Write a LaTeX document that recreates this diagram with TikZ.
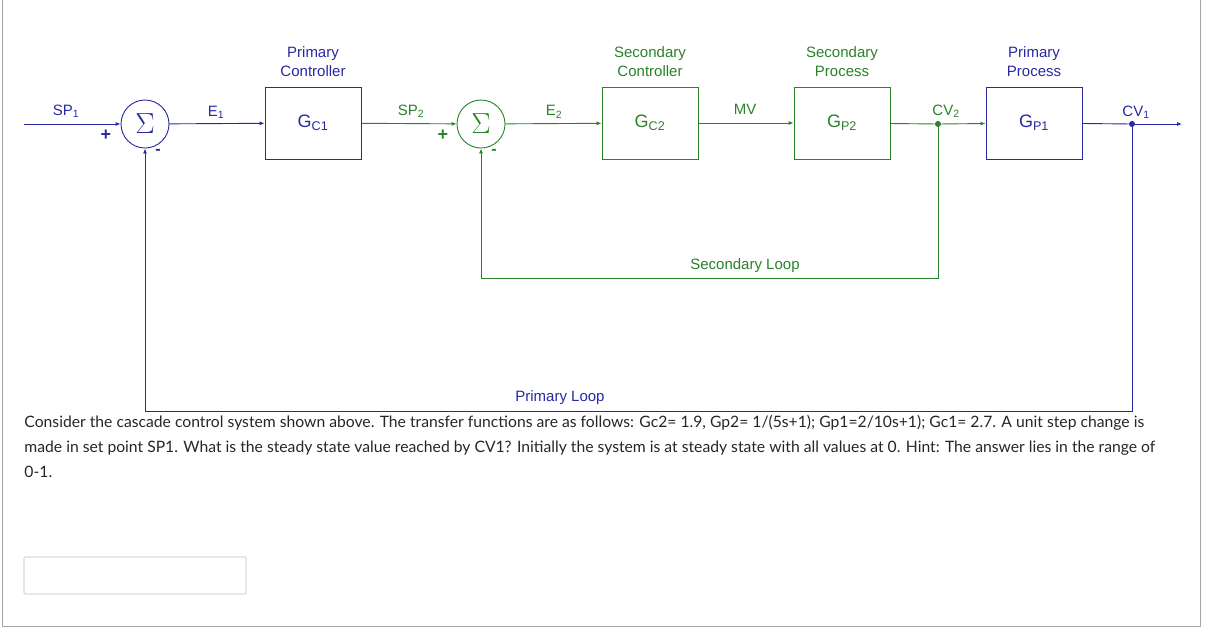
\documentclass[tikz,border=0pt]{standalone}
\usepackage{fontspec}
\setmainfont{Liberation Sans}
\newfontfamily\latofont{Lato}
\usetikzlibrary{arrows.meta}
\definecolor{bl}{RGB}{40,40,160}
\definecolor{gr}{RGB}{40,130,40}
\begin{document}
\begin{tikzpicture}[x=1pt,y=-1pt,line width=0.9pt,
  lbl/.style={font=\fontsize{15}{15}\selectfont},
  ttl/.style={font=\fontsize{15}{19}\selectfont,align=center},
  blk/.style={draw,minimum width=96pt,minimum height=72pt,font=\fontsize{18}{18}\selectfont},
  sumnode/.style={draw,circle,minimum size=48pt,inner sep=0pt,font=\fontsize{22}{22}\selectfont},
  arr/.style={-{Latex[length=5pt,width=4pt]}},
  dotn/.style={circle,fill,inner sep=0pt,minimum size=6pt}]
\useasboundingbox (0,0) rectangle (1216,641);
\draw[gray!70] (2,-5) rectangle (1200,626);
% blue
\begin{scope}[bl]
\coordinate (in) at (24,124);
\node[sumnode] (s1) at (145,124) {\scalebox{1.4}{$\Sigma$}};
\node[blk] (gc1) at (313,123) {G\textsubscript{C1}};
\node[blk] (gp1) at (1034,123) {G\textsubscript{P1}};
\node[dotn] (cv1) at (1132,124) {};
\coordinate (out) at (1182,124);
\coordinate (pl1) at (1132,411);
\coordinate (pl2) at (145,411);
\draw[arr] (in) -- (s1);
\draw[arr] (s1) -- (gc1);
\draw (gp1) -- (cv1);
\draw[arr] (cv1) -- (out);
\draw[arr] (cv1) -- (pl1) -- (pl2) -- (s1);
\node[lbl] at (66,111) {SP\textsubscript{1}};
\node[lbl] at (216,112) {E\textsubscript{1}};
\node[lbl] at (1136,112) {CV\textsubscript{1}};
\node[font=\fontsize{18}{18}\selectfont\bfseries] at (106,135) {+};
\node[font=\fontsize{16}{16}\selectfont\bfseries] at (158,152) {-};
\node[ttl] at (313,62) {Primary\\Controller};
\node[ttl] at (1034,62) {Primary\\Process};
\node[lbl] at (560,398) {Primary Loop};
\end{scope}
% green
\begin{scope}[gr]
\node[sumnode] (s2) at (481,124) {\scalebox{1.4}{$\Sigma$}};
\node[blk] (gc2) at (650,123) {G\textsubscript{C2}};
\node[blk] (gp2) at (842,123) {G\textsubscript{P2}};
\node[dotn] (cv2) at (938,124) {};
\coordinate (sl1) at (938,278);
\coordinate (sl2) at (481,278);
\draw[arr] (gc1) -- (s2);
\draw[arr] (s2) -- (gc2);
\draw[arr] (gc2) -- (gp2);
\draw (gp2) -- (cv2);
\draw[arr] (cv2) -- (gp1);
\draw[arr] (cv2) -- (sl1) -- (sl2) -- (s2);
\node[lbl] at (411,111) {SP\textsubscript{2}};
\node[lbl] at (554,112) {E\textsubscript{2}};
\node[lbl] at (745,109) {MV};
\node[lbl] at (946,111) {CV\textsubscript{2}};
\node[font=\fontsize{18}{18}\selectfont\bfseries] at (443,135) {+};
\node[font=\fontsize{16}{16}\selectfont\bfseries] at (494,152) {-};
\node[ttl] at (650,62) {Secondary\\Controller};
\node[ttl] at (842,62) {Secondary\\Process};
\node[lbl] at (745,266) {Secondary Loop};
\end{scope}
% question text
\begin{scope}[every node/.style={anchor=west,inner sep=0pt,font=\latofont\fontsize{15.7}{15.7}\selectfont,text=black!85}]
\node (t1) at (24,423) {Consider the cascade control system shown above. The transfer functions are as follows: Gc2= 1.9, Gp2= 1/(5s+1); Gp1=2/10s+1); Gc1= 2.7. A unit step change is};
\node (t2) at (24,448) {made in set point SP1. What is the steady state value reached by CV1? Initially the system is at steady state with all values at 0. Hint: The answer lies in the range of};
\node (t3) at (24,472) {0-1.};
\end{scope}
\draw[gray!50,line width=0.6pt,rounded corners=1pt] (24,557) rectangle (246,594);
\end{tikzpicture}
\end{document}
